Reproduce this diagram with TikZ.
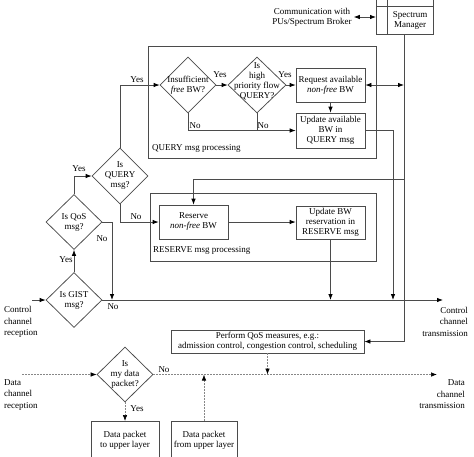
\documentclass[tikz,border=0pt]{standalone}
\usepackage{fontspec}
\setmainfont{Liberation Serif}
\usetikzlibrary{arrows.meta,shapes.geometric,calc}
\definecolor{lc}{RGB}{75,75,75}
\definecolor{dc}{RGB}{135,135,135}
\newcommand\myfs{\fontsize{9}{10}\selectfont}
\newcommand\mysidefs{\fontsize{9}{11.5}\selectfont}
\tikzset{
  tip/.tip={Latex[length=6pt,width=4.5pt,color=black]},
  ln/.style={draw=lc, line width=0.75pt},
  arr/.style={ln, -tip},
  arrtwo/.style={ln, tip-tip},
  darr/.style={draw=dc, line width=0.6pt, dash pattern=on 2pt off 1pt, -tip},
  box/.style={ln, align=center, font=\myfs, inner sep=0pt},
  lbl/.style={font=\myfs, inner sep=0pt},
  side/.style={font=\mysidefs, inner sep=0pt},
  dia/.style={diamond, ln, minimum width=56pt, minimum height=56pt, inner sep=0pt},
  dtxt/.style={align=center, font=\myfs, inner sep=0pt}
}
\begin{document}
\begin{tikzpicture}[x=1pt,y=-1pt]
\useasboundingbox (0,0) rectangle (474,456);

% processing group frames
\draw[ln] (148,46) rectangle (376,158);
\node[lbl, anchor=west] (qlab) at (152,148) {QUERY msg processing};
\draw[ln] (150,193) rectangle (376,261);
\node[lbl, anchor=west] (rlab) at (153,250) {RESERVE msg processing};

% spectrum manager
\draw[ln] (376,-3) rectangle (433,34);
\draw[ln] (387,-3) -- (387,34);
\draw[ln] (376,6) -- (433,6);
\node[box, minimum width=46pt, minimum height=28pt] (sm) at (410,20) {Spectrum\\Manager};
\coordinate (smL) at (376,17);
\coordinate (smB) at (404,34);
\node[lbl, align=center] (comm) at (312,17) {Communication with\\PUs/Spectrum Broker};
\draw[arrtwo] ($(comm.east)+(2,0)$) -- (smL);

% boxes
\node[box, minimum width=69pt, minimum height=34pt] (req) at (330.5,85) {Request available\\\emph{non-free} BW};
\node[box, minimum width=69pt, minimum height=35pt] (updq) at (330.5,130.5) {Update available\\BW in\\QUERY msg};
\node[box, minimum width=69pt, minimum height=34pt] (res) at (193.5,222) {Reserve\\\emph{non-free} BW};
\node[box, minimum width=69pt, minimum height=33pt] (updr) at (330.5,222.5) {Update BW\\reservation in\\RESERVE msg};
\node[box, minimum width=193pt, minimum height=23pt] (qos) at (267.5,341.5) {Perform QoS measures, e.g.:\\admission control, congestion control, scheduling};
\node[box, minimum width=68pt, minimum height=37pt, anchor=north] (up) at (125,421) {Data packet\\to upper layer};
\node[box, minimum width=66pt, minimum height=37pt, anchor=north] (fr) at (204,421) {Data packet\\from upper layer};

% decisions
\node[dia, label={[dtxt]center:{Insufficient\\\emph{free} BW?}}] (d1) at (188,85) {};
\node[dia, minimum width=58pt, label={[dtxt, yshift=4pt]center:{Is\\high\\priority flow\\QUERY?}}] (d2) at (257,85) {};
\node[dia, label={[dtxt]center:{Is\\QUERY\\msg?}}] (d3) at (120,176) {};
\node[dia, minimum height=55pt, label={[dtxt]center:{Is QoS\\msg?}}] (d4) at (74,222) {};
\node[dia, minimum height=55pt, label={[dtxt]center:{Is GIST\\msg?}}] (d5) at (74,300) {};
\node[dia, minimum height=55pt, label={[dtxt]center:{Is\\my data\\packet?}}] (d6) at (125,374.5) {};

% coordinates
\coordinate (cin) at (32,300);
\coordinate (cout) at (443,300);
\coordinate (din) at (22,374.5);
\coordinate (dout) at (437,374.5);
\coordinate (br) at (404,179);
\coordinate (cq) at (393,300);
\coordinate (cn) at (112,300);

% QUERY processing connectors
\draw[arr] (d1.east) -- (d2.west);
\draw[arr] (d2.east) -- (req.west);
\draw[arr] (req.south) -- (updq.north);
\draw[arr] (d1.south) |- (updq.west);
\draw[ln] (d2.south) -- (d2.south |- updq.west);
\draw[arrtwo] (req.east) -- (req.east -| smB);
\draw[arr] (updq.east) -| (cq);

% spectrum manager trunk
\draw[arr] (smB) |- (qos.east);
\draw[arr] (br) -| (res.north);

% RESERVE processing
\draw[arr] (res.east) -- (res.east -| updr.west);
\draw[arr] (updr.south) -- (updr.south |- cout);

% decision chain
\draw[arr] (cin) -- (d5.west);
\draw[arr] (d5.east) -- (cout);
\draw[arr] (d5.north) -- (d4.south);
\draw[arr] (d4.north) |- (d3.west);
\draw[arr] (d4.east) -| (cn);
\draw[arr] (d3.north) |- (d1.west);
\draw[arr] (d3.south) |- (res.west);

% data channel
\draw[darr] (din) -- (d6.west);
\draw[darr] (d6.east) -- (dout);
\draw[darr] (d6.south) -- (up.north);
\draw[darr] (fr.north) -- (fr.north |- dout);
\draw[darr] (qos.south) -- (qos.south |- dout);

% connector labels
\node[lbl] (y1) at (220,75) {Yes};
\node[lbl] (y2) at (285,75) {Yes};
\node[lbl] (n1) at (195,126) {No};
\node[lbl] (n2) at (263,126) {No};
\node[lbl] (y3) at (137,80) {Yes};
\node[lbl] (n3) at (136,217) {No};
\node[lbl] (y4) at (79,169) {Yes};
\node[lbl] (n4) at (102,239) {No};
\node[lbl] (y5) at (66,260) {Yes};
\node[lbl] (n5) at (113,307) {No};
\node[lbl] (n6) at (164,370) {No};
\node[lbl] (y6) at (137,409) {Yes};

% side texts
\node[side, align=left, anchor=west] (cr) at (4,322) {Control\\channel\\reception};
\node[side, align=right, anchor=east] (ct) at (468,321.5) {Control\\channel\\transmission};
\node[side, align=left, anchor=west] (dr) at (4,395) {Data\\channel\\reception};
\node[side, align=right, anchor=east] (dt) at (465,394.5) {Data\\channel\\transmission};
\end{tikzpicture}
\end{document}
